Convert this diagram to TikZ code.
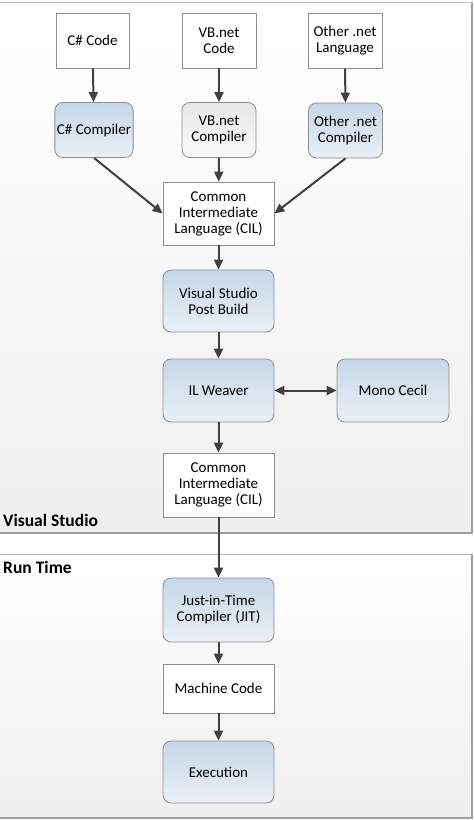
\documentclass[tikz,border=0pt]{standalone}
\usepackage{fontspec}
\setmainfont{Carlito}
\usetikzlibrary{arrows.meta,shadings}
\definecolor{arr}{HTML}{404040}
\definecolor{bord}{HTML}{8E8E8E}
\definecolor{bluetop}{HTML}{C6D7E8}
\definecolor{bluebot}{HTML}{EAF0F6}
\definecolor{panelbot}{HTML}{EFEFEF}
\tikzset{
  box/.style={draw=bord, line width=0.8pt, fill=white, align=center,
    font=\fontsize{15}{16}\selectfont, inner sep=2pt},
  proc/.style={box, rounded corners=8pt, top color=bluetop, bottom color=bluebot},
  tip/.style={Triangle[length=10pt,width=9pt]},
  flow/.style={draw=arr, line width=2pt, -{Triangle[length=10pt,width=9pt]}},
  panel/.style={draw=none, top color=white, bottom color=panelbot},
  paneledge/.style={draw=gray!75, line width=1.5pt},
  ptitle/.style={anchor=west, font=\bfseries\fontsize{17.5}{20}\selectfont, inner sep=0pt}
}
\begin{document}
\begin{tikzpicture}[x=1pt,y=-1pt]
\useasboundingbox (0,0) rectangle (474,820);
\fill[white] (0,0) rectangle (474,820);
% panels
\shade[panel] (0,2) rectangle (472,533);
\draw[paneledge] (472,2) -- (472,533) -- (0,533);
\draw[gray!50, line width=0.6pt] (0,2) -- (472,2);
\shade[panel] (0,554) rectangle (472,818);
\draw[gray!60, line width=1pt] (0,554) -- (472,554);
\draw[paneledge] (472,554) -- (472,818) -- (0,818);
\node[ptitle] (vs) at (3,520) {Visual Studio};
\node[ptitle] (rt) at (3,567) {Run Time};
% nodes
\node[box, minimum width=73pt, minimum height=55pt] (cs) at (92.5,40.5) {C\# Code};
\node[box, minimum width=74pt, minimum height=55pt] (vb) at (219,40.5) {VB.net\\Code};
\node[box, minimum width=74pt, minimum height=55pt] (ot) at (345,41) {Other .net\\Language};
\node[proc, minimum width=74pt, minimum height=55pt] (csc) at (94,130) {C\# Compiler};
\node[proc, minimum width=74pt, minimum height=55pt, top color=gray!18, bottom color=gray!5] (vbc) at (219,130) {VB.net\\Compiler};
\node[proc, minimum width=74pt, minimum height=55pt] (otc) at (345.5,130.5) {Other .net\\Compiler};
\node[box, minimum width=111pt, minimum height=63pt] (cil1) at (218.5,213.5) {Common\\Intermediate\\Language (CIL)};
\node[proc, minimum width=111pt, minimum height=62pt] (post) at (218.5,301) {Visual Studio\\Post Build};
\node[proc, minimum width=111pt, minimum height=63pt] (ilw) at (218.5,390.5) {IL Weaver};
\node[proc, minimum width=112pt, minimum height=63pt] (mono) at (393,390.5) {Mono Cecil};
\node[box, minimum width=111pt, minimum height=64pt] (cil2) at (218.5,485) {Common\\Intermediate\\Language (CIL)};
\node[proc, minimum width=111pt, minimum height=64pt] (jit) at (218.5,610) {Just-in-Time\\Compiler (JIT)};
\node[box, minimum width=111pt, minimum height=49pt] (mc) at (218.5,688.5) {Machine Code};
\node[proc, minimum width=111pt, minimum height=62pt] (ex) at (218.5,772) {Execution};
% connectors
\draw[flow] (cs) -- (csc);
\draw[flow] (vb) -- (vbc);
\draw[flow] (ot) -- (otc);
\draw[flow] (csc.south) -- (cil1.west);
\draw[flow] (vbc) -- (cil1);
\draw[flow] (otc.south) -- (cil1.east);
\draw[flow] (cil1) -- (post);
\draw[flow] (post) -- (ilw);
\draw[flow, {Triangle[length=10pt,width=9pt]}-{Triangle[length=10pt,width=9pt]}] (ilw) -- (mono);
\draw[flow] (ilw) -- (cil2);
\draw[flow] (cil2) -- (jit);
\draw[flow] (jit) -- (mc);
\draw[flow] (mc) -- (ex);
\end{tikzpicture}
\end{document}
